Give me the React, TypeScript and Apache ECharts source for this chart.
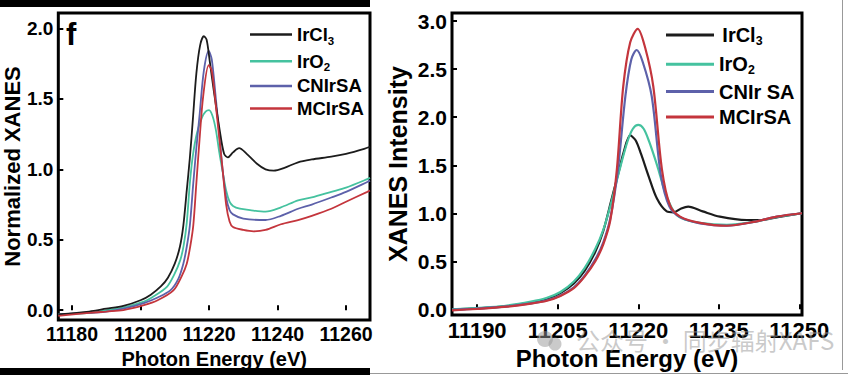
import React, { useEffect, useRef } from "react";
import * as echarts from "echarts";

const FONT = "'Liberation Sans', Arial, sans-serif";

const seriesNames = ["IrCl3", "IrO2", "CNIrSA", "MCIrSA"];
const seriesColors = ["#1c1c1c", "#45c29f", "#5d61aa", "#c4353c"];

const leftXTicks = [11180, 11200, 11220, 11240, 11260];
const leftYTicks = [0, 0.5, 1, 1.5, 2];
const rightXTicks = [11190, 11205, 11220, 11235, 11250];
const rightYTicks = [0, 0.5, 1, 1.5, 2, 2.5, 3];

// Left panel (normalized XANES)
const leftIrCl3 = [
  [11176, -0.03], [11185, -0.01], [11190, 0.01], [11195, 0.03], [11200, 0.07], [11203, 0.11],
  [11206, 0.17], [11208, 0.23], [11210, 0.33], [11211.5, 0.45], [11212.5, 0.6], [11213.5, 0.85],
  [11214.4, 1.08], [11215.3, 1.36], [11216.3, 1.68], [11217.4, 1.88], [11218.5, 1.945], [11219.3, 1.92],
  [11220.2, 1.77], [11221.5, 1.54], [11223.1, 1.28], [11224.4, 1.11], [11225.5, 1.085], [11227, 1.12],
  [11228.8, 1.15], [11231, 1.11], [11234, 1.04], [11236.5, 1.0], [11238.9, 0.99], [11242, 1.01],
  [11246, 1.05], [11250, 1.07], [11255.7, 1.09], [11260, 1.11], [11265.3, 1.145], [11267, 1.16],
];
const leftIrO2 = [
  [11176, -0.03], [11185, -0.02], [11190, 0.0], [11195, 0.02], [11201, 0.06], [11204, 0.1],
  [11207.7, 0.165], [11209.8, 0.25], [11211.6, 0.355], [11212.6, 0.46], [11213.5, 0.62], [11214.4, 0.9],
  [11215.3, 1.1], [11216.5, 1.26], [11218, 1.37], [11219, 1.41], [11220, 1.42], [11221, 1.38],
  [11222, 1.28], [11223, 1.12], [11224, 0.98], [11225, 0.85], [11226, 0.77], [11227, 0.74],
  [11229, 0.72], [11232, 0.71], [11236.5, 0.7], [11241, 0.73], [11246, 0.78], [11250, 0.8],
  [11255.7, 0.84], [11260, 0.87], [11266.2, 0.93], [11267, 0.94],
];
const leftCNIrSA = [
  [11176, -0.03], [11185, -0.02], [11190, -0.01], [11195, 0.01], [11201, 0.05], [11205, 0.09],
  [11208.7, 0.14], [11211, 0.22], [11212.5, 0.33], [11213.5, 0.45], [11214.4, 0.6], [11215.4, 0.9],
  [11216.3, 1.15], [11217.3, 1.4], [11218.5, 1.7], [11219.9, 1.84], [11220.8, 1.78], [11222, 1.5],
  [11223, 1.25], [11224, 0.99], [11225, 0.8], [11226, 0.71], [11227, 0.68], [11230, 0.65],
  [11236.5, 0.64], [11241, 0.67], [11246, 0.72], [11250, 0.75], [11255.7, 0.8], [11260, 0.84],
  [11266.2, 0.91], [11267, 0.92],
];
const leftMCIrSA = [
  [11176, -0.04], [11185, -0.02], [11190, -0.01], [11195, 0.0], [11201, 0.035], [11205, 0.07],
  [11209.6, 0.14], [11212, 0.24], [11213.5, 0.33], [11214.5, 0.45], [11215.4, 0.6], [11216.3, 0.9],
  [11217.2, 1.2], [11218.3, 1.52], [11219.9, 1.74], [11220.8, 1.7], [11222, 1.45], [11223, 1.22],
  [11224, 0.99], [11225, 0.75], [11226, 0.63], [11227, 0.59], [11230, 0.57], [11233, 0.56],
  [11236.5, 0.57], [11241, 0.61], [11246, 0.64], [11250, 0.67], [11255.7, 0.72], [11260, 0.77],
  [11266.2, 0.84], [11267, 0.85],
];

// Right panel (XANES intensity)
const rightIrCl3 = [
  [11185.3, 0.0], [11190, 0.01], [11195, 0.03], [11200, 0.07], [11203, 0.11], [11205.5, 0.17],
  [11208, 0.27], [11210, 0.4], [11212, 0.6], [11213.5, 0.82], [11215, 1.14], [11216.3, 1.42],
  [11217.3, 1.64], [11218.5, 1.81], [11219.5, 1.76], [11220.5, 1.62], [11221.9, 1.39], [11223.5, 1.15],
  [11225.3, 1.02], [11226.6, 1.01], [11228, 1.05], [11229.3, 1.07], [11232, 1.02], [11235.2, 0.965],
  [11240.2, 0.93], [11243, 0.93], [11246, 0.96], [11250.5, 1.0],
];
const rightIrO2 = [
  [11185.3, 0.0], [11190, 0.015], [11195, 0.035], [11200, 0.08], [11203, 0.12], [11205.5, 0.18],
  [11208, 0.29], [11210, 0.43], [11212, 0.63], [11213.5, 0.83], [11215, 1.12], [11216.5, 1.45],
  [11218, 1.75], [11219, 1.88], [11220, 1.92], [11221, 1.88], [11222, 1.75], [11223.5, 1.5],
  [11225, 1.22], [11226.5, 1.03], [11228, 0.95], [11231.5, 0.9], [11236.5, 0.88], [11241.5, 0.91],
  [11245.8, 0.96], [11250.5, 1.0],
];
const rightCNIrSA = [
  [11185.3, -0.005], [11190, 0.008], [11195, 0.028], [11200, 0.062], [11203, 0.095], [11205.5, 0.145],
  [11208, 0.23], [11210, 0.35], [11212, 0.52], [11213.5, 0.7], [11214.8, 0.95], [11216.2, 1.45],
  [11217.6, 2.22], [11218.7, 2.6], [11219.7, 2.7], [11220.8, 2.58], [11222.5, 2.22], [11224.2, 1.4],
  [11225.8, 1.07], [11227.8, 0.96], [11231.5, 0.895], [11236.5, 0.87], [11241.5, 0.91], [11245.8, 0.965],
  [11250.5, 1.0],
];
const rightMCIrSA = [
  [11185.3, -0.01], [11190, 0.005], [11195, 0.025], [11200, 0.06], [11203, 0.09], [11205.5, 0.14],
  [11208, 0.22], [11210, 0.34], [11212, 0.5], [11213.5, 0.68], [11214.8, 0.93], [11216, 1.45],
  [11217.2, 2.32], [11218.5, 2.78], [11219.9, 2.92], [11221.3, 2.72], [11222.8, 2.32], [11224.4, 1.46],
  [11225.9, 1.085], [11227.8, 0.965], [11231.5, 0.9], [11236.5, 0.87], [11241.5, 0.91], [11245.8, 0.965],
  [11250.5, 1.0],
];

const leftData = [leftIrCl3, leftIrO2, leftCNIrSA, leftMCIrSA];
const rightData = [rightIrCl3, rightIrO2, rightCNIrSA, rightMCIrSA];

function legendLabel(name: string, right: boolean) {
  if (name === "IrCl3") return (right ? " " : "") + "{n|IrCl}{s|3}";
  if (name === "IrO2") return "{n|IrO}{s|2}";
  if (name === "CNIrSA") return right ? "{n|CNIr SA}" : "{n|CNIrSA}";
  return "{n|" + name + "}";
}

function makeRich(size: number) {
  return {
    n: { fontSize: size, fontWeight: "bold", color: "#000", fontFamily: FONT, lineHeight: 24 },
    s: { fontSize: size * 0.62, fontWeight: "bold", color: "#000", fontFamily: FONT, lineHeight: 12, padding: [12, 0, 0, 0] },
  };
}

function xAxisCfg(grid: number, min: number, max: number, ticks: number[], fs: number, nameFs: number, gap: number, margin: number) {
  return {
    type: "value", gridIndex: grid, min, max,
    axisLine: { show: false },
    splitLine: { show: false },
    axisTick: { show: true, inside: true, length: 5, customValues: ticks, lineStyle: { color: "#000", width: 2 } },
    axisLabel: {
      customValues: ticks, fontSize: fs, fontWeight: "bold", color: "#000", fontFamily: FONT, margin,
      formatter: (v: number) => String(Math.round(v)),
    },
    name: "Photon Energy (eV)", nameLocation: "middle", nameGap: gap,
    nameTextStyle: { fontSize: nameFs, fontWeight: "bold", color: "#000", fontFamily: FONT },
  };
}

function yAxisCfg(grid: number, min: number, max: number, ticks: number[], fs: number, name: string, nameFs: number, gap: number) {
  return {
    type: "value", gridIndex: grid, min, max,
    axisLine: { show: false },
    splitLine: { show: false },
    axisTick: { show: true, inside: true, length: 5, customValues: ticks, lineStyle: { color: "#000", width: 2 } },
    axisLabel: {
      customValues: ticks, fontSize: fs, fontWeight: "bold", color: "#000", fontFamily: FONT, margin: 5,
      formatter: (v: number) => v.toFixed(1),
    },
    name, nameLocation: "middle", nameGap: gap,
    nameTextStyle: { fontSize: nameFs, fontWeight: "bold", color: "#000", fontFamily: FONT },
  };
}

export default function App() {
  const ref = useRef<HTMLDivElement>(null);
  useEffect(() => {
    document.body.style.margin = "0";
    if (!ref.current) return;
    const chart = echarts.init(ref.current, undefined, { renderer: "svg" });
    const series: any[] = [];
    seriesNames.forEach((name, i) => {
      series.push({
        type: "line", name, xAxisIndex: 0, yAxisIndex: 0, data: leftData[i], showSymbol: false,
        smooth: 0.3, lineStyle: { color: seriesColors[i], width: 1.8 }, itemStyle: { color: seriesColors[i] },
        z: i === 0 ? 5 : 2 + i,
      });
      series.push({
        type: "line", name, xAxisIndex: 1, yAxisIndex: 1, data: rightData[i], showSymbol: false,
        smooth: 0.3, lineStyle: { color: seriesColors[i], width: 2.2 }, itemStyle: { color: seriesColors[i] },
        z: 2 + i,
      });
    });
    chart.setOption({
      animation: false,
      backgroundColor: "#fff",
      grid: [
        { left: 53, top: 13, width: 317, height: 307, show: true, borderColor: "#000", borderWidth: 3, backgroundColor: "transparent" },
        { left: 452, top: 13, width: 350, height: 305, show: true, borderColor: "#000", borderWidth: 3, backgroundColor: "transparent" },
      ],
      xAxis: [
        xAxisCfg(0, 11176, 11267, leftXTicks, 19.5, 20, 21, 4),
        xAxisCfg(1, 11185.3, 11250.5, rightXTicks, 22, 24, 27, 4),
      ],
      yAxis: [
        yAxisCfg(0, -0.07, 2.11, leftYTicks, 19, "Normalized XANES", 22, 32),
        yAxisCfg(1, -0.06, 3.085, rightYTicks, 21, "XANES Intensity", 25, 42),
      ],
      legend: [
        {
          left: 245, top: 18, orient: "vertical", icon: "rect", itemWidth: 42, itemHeight: 2.5, itemGap: 3.7,
          selectedMode: false, data: seriesNames,
          formatter: (n: string) => legendLabel(n, false),
          textStyle: { rich: makeRich(18.5) },
        },
        {
          left: 661, top: 18, orient: "vertical", icon: "rect", itemWidth: 48, itemHeight: 3, itemGap: 5.3,
          selectedMode: false, data: seriesNames,
          formatter: (n: string) => legendLabel(n, true),
          textStyle: { rich: makeRich(20) },
        },
      ],
      graphic: [
        { type: "rect", shape: { x: 0, y: 0, width: 370, height: 7 }, style: { fill: "#000" }, z: 10 },
        { type: "rect", shape: { x: 0, y: 368, width: 370, height: 7 }, style: { fill: "#000" }, z: 10 },
        { type: "line", shape: { x1: 842.5, y1: 0, x2: 842.5, y2: 370 }, style: { stroke: "#999", lineWidth: 1 }, z: 10 },
        { type: "line", shape: { x1: 370, y1: 373.5, x2: 848, y2: 373.5 }, style: { stroke: "#999", lineWidth: 1 }, z: 10 },
        {
          type: "text", left: 66, top: 19, z: 10,
          style: { text: "f", fontSize: 31, fontWeight: "bold", fill: "#000", fontFamily: FONT },
        },
        { type: "circle", shape: { cx: 545, cy: 339, r: 8 }, style: { fill: "rgba(150,150,150,0.5)" }, z: 20 },
        { type: "circle", shape: { cx: 555, cy: 344, r: 6.5 }, style: { fill: "rgba(150,150,150,0.5)" }, z: 20 },
        {
          type: "text", left: 576, top: 327, z: 20,
          style: { text: "公众号 · 同步辐射XAFS", fontSize: 24, fill: "rgba(150,150,150,0.5)", fontFamily: "'Noto Sans CJK SC', sans-serif" },
        },
      ],
      series,
    });
    return () => chart.dispose();
  }, []);
  return <div ref={ref} style={{ width: 848, height: 375 }} />;
}
